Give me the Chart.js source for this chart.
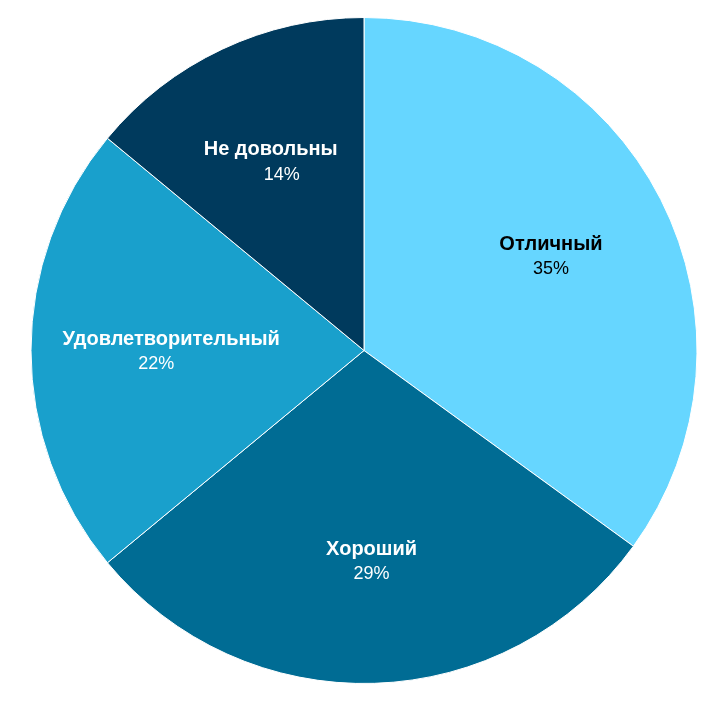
<!DOCTYPE html>
<html><head><meta charset="utf-8">
<script src="https://cdn.jsdelivr.net/npm/chart.js@4.4.0/dist/chart.umd.min.js"></script>
<style>html,body{margin:0;padding:0;background:#fff;}canvas{display:block;}</style>
</head><body>
<canvas id="c" width="723" height="710"></canvas>
<script>
const categories = ["Отличный", "Хороший", "Удовлетворительный", "Не довольны"];
const values = [35, 29, 22, 14];
const colors = ["#66d6ff", "#006c94", "#19a0cc", "#003a5d"];
const textColors = ["#000000", "#ffffff", "#ffffff", "#ffffff"];

// small horizontal nudges of the label lines (style only)
const nameNudge = [0, 1, 17, -4];
const pctNudge = [0, 1, 2, 7];

const labelPlugin = {
  id: 'sliceLabels',
  afterDatasetsDraw(chart) {
    const ctx = chart.ctx;
    const meta = chart.getDatasetMeta(0);
    const total = values.reduce((a, b) => a + b, 0);
    meta.data.forEach((arc, i) => {
      const p = arc.getProps(['x', 'y', 'startAngle', 'endAngle', 'outerRadius'], true);
      const mid = (p.startAngle + p.endAngle) / 2;
      const r = p.outerRadius * 0.63;
      const x = p.x + Math.cos(mid) * r;
      const y = p.y + Math.sin(mid) * r;
      ctx.save();
      ctx.fillStyle = textColors[i];
      ctx.textAlign = 'center';
      ctx.textBaseline = 'middle';
      ctx.font = 'bold 20px "Liberation Sans", Arial, sans-serif';
      ctx.fillText(categories[i], x + nameNudge[i], y - 11);
      ctx.font = '18px "Liberation Sans", Arial, sans-serif';
      ctx.fillText(Math.round(values[i] / total * 100) + '%', x + pctNudge[i], y + 14);
      ctx.restore();
    });
  }
};

new Chart(document.getElementById('c'), {
  type: 'pie',
  data: {
    labels: categories,
    datasets: [{
      data: values,
      backgroundColor: colors,
      borderColor: '#ffffff',
      borderWidth: 1
    }]
  },
  options: {
    responsive: false,
    animation: false,
    layout: { padding: { top: 17, bottom: 26, left: 5, right: 0 } },
    plugins: { legend: { display: false }, tooltip: { enabled: false } }
  },
  plugins: [labelPlugin]
});
</script>
</body></html>
